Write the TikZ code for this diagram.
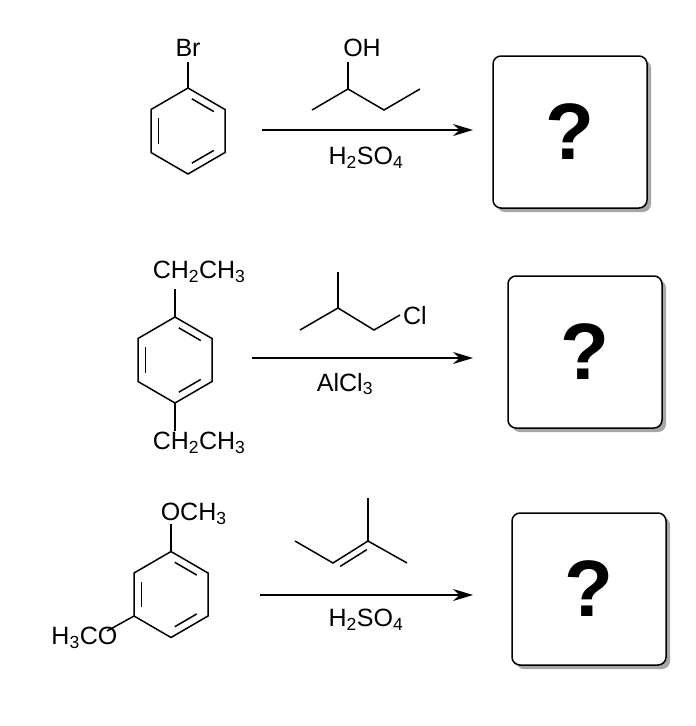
\documentclass[tikz,border=0pt]{standalone}
\usepackage{fontspec}
\setmainfont{Liberation Sans}
\usetikzlibrary{calc,arrows.meta,shadows}
\begin{document}
\begin{tikzpicture}[x=1pt,y=-1pt,line width=1.5pt,
  lbl/.style={inner sep=0pt,font=\fontsize{25}{25}\selectfont},
  qbox/.style={draw,rounded corners=8pt,line width=1.5pt,fill=white,minimum width=154pt,minimum height=152pt,
    drop shadow={shadow xshift=4pt,shadow yshift=-4pt,fill=black!35,opacity=1},font=\fontsize{80}{80}\selectfont\bfseries},
  rxn/.style={-{Stealth[length=20pt,width=12pt]}}]
\useasboundingbox (0,0) rectangle (696,726);
\newcommand{\inb}[3]{\draw ($($(#3)!0.8!(#1)$)!0.13!($(#3)!0.8!(#2)$)$) -- ($($(#3)!0.8!(#2)$)!0.13!($(#3)!0.8!(#1)$)$);}
\newcommand{\ring}[2]{%
 \coordinate (#1c) at #2;
 \coordinate (#1a) at ($(#1c)+(0,-43)$);
 \coordinate (#1b) at ($(#1c)+(37,-21.5)$);
 \coordinate (#1d) at ($(#1c)+(37,21.5)$);
 \coordinate (#1e) at ($(#1c)+(0,43)$);
 \coordinate (#1f) at ($(#1c)+(-37,21.5)$);
 \coordinate (#1g) at ($(#1c)+(-37,-21.5)$);
 \draw (#1a)--(#1b)--(#1d)--(#1e)--(#1f)--(#1g)--cycle;
 \inb{#1a}{#1b}{#1c}\inb{#1d}{#1e}{#1c}\inb{#1f}{#1g}{#1c}}
% row 1
\ring{r}{(188,131)}
\node[lbl] (br) at (188,48) {Br};
\draw (ra) -- (188,62);
\coordinate (m1) at (312,110); \coordinate (m2) at (348,89);
\coordinate (m3) at (384,110); \coordinate (m4) at (420,89);
\draw (m1)--(m2)--(m3)--(m4); \draw (m2) -- (348,62);
\node[lbl] (oh) at (362,48) {OH};
\node[qbox] (b1) at (570,132) {?};
\coordinate (a1s) at (262,130); \coordinate (a1e) at (473,130);
\draw[rxn] (a1s) -- (a1e);
\node[lbl] (h1) at (366,158) {H\textsubscript{2}SO\textsubscript{4}};
% row 2
\ring{s}{(175,360)}
\draw (sa) -- (175,289); \draw (se) -- (175,431);
\node[lbl,anchor=west] (e1) at (152,272) {CH\textsubscript{2}CH\textsubscript{3}};
\node[lbl,anchor=west] (e2) at (152,443) {CH\textsubscript{2}CH\textsubscript{3}};
\coordinate (n1) at (300,330); \coordinate (n2) at (338,308);
\coordinate (n3) at (374,330); \coordinate (n4) at (400,315);
\draw (n1)--(n2)--(n3)--(n4); \draw (n2)--(338,272);
\node[lbl] (cl) at (415,316) {Cl};
\node[qbox] (b2) at (585,352) {?};
\coordinate (a2s) at (252,358); \coordinate (a2e) at (473,358);
\draw[rxn] (a2s) -- (a2e);
\node[lbl] (al) at (345,384) {AlCl\textsubscript{3}};
% row 3
\ring{t}{(171,594.5)}
\draw (ta) -- (171,524);
\node[lbl,anchor=west] (o1) at (160,514) {OCH\textsubscript{3}};
\draw (tf) -- (107,631);
\node[lbl,anchor=east] (o2) at (118,638) {H\textsubscript{3}CO};
\coordinate (k1) at (295,541); \coordinate (k2) at (333,563);
\coordinate (k3) at (368,541); \coordinate (k4) at (407,563);
\draw (k1)--(k2)--(k3)--(k4); \draw (k3)--(368,498);
\draw ($(k2)!0.12!(k3)+(3,6)$) -- ($(k3)!0.12!(k2)+(3,6)$);
\node[qbox] (b3) at (589,589) {?};
\coordinate (a3s) at (260,595); \coordinate (a3e) at (473,595);
\draw[rxn] (a3s) -- (a3e);
\node[lbl] (h3) at (366,620) {H\textsubscript{2}SO\textsubscript{4}};
\end{tikzpicture}
\end{document}
